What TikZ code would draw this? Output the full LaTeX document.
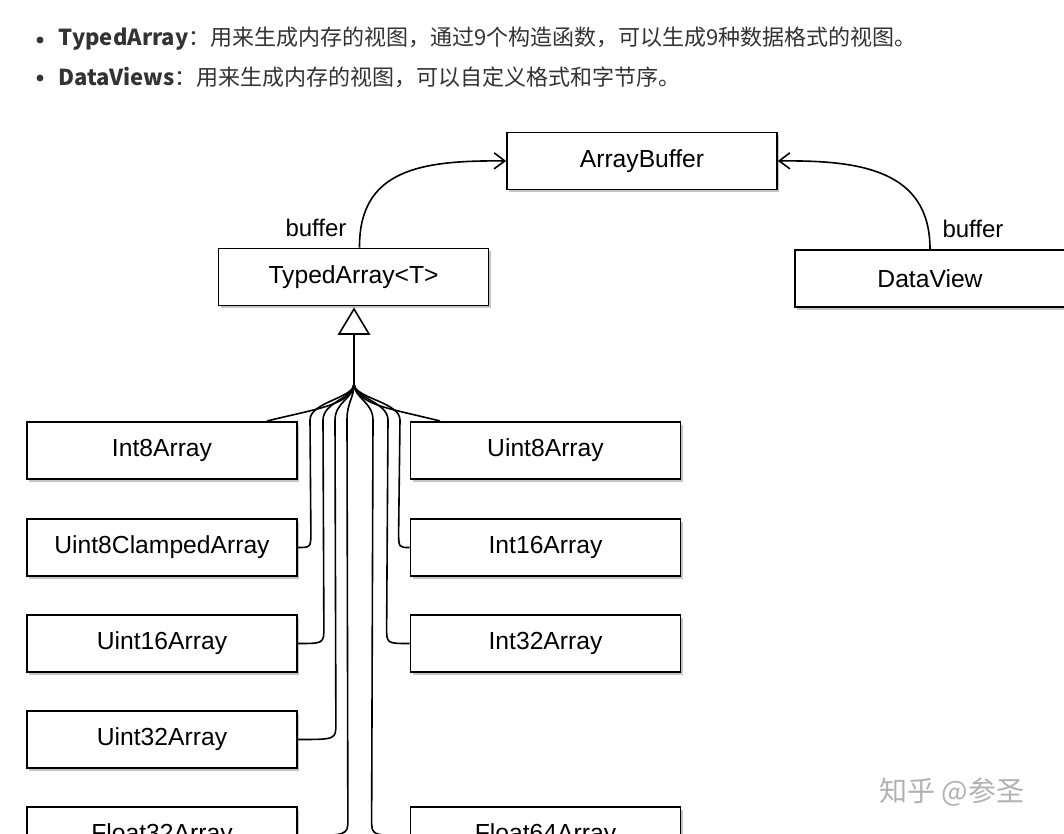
\documentclass[tikz,border=0pt]{standalone}
\usepackage{fontspec}
\setmainfont{Liberation Sans}
\newfontfamily\cjk{Noto Sans CJK SC}
\usetikzlibrary{arrows.meta,calc}
\begin{document}
\begin{tikzpicture}[x=0.75pt,y=-0.75pt,
  box/.style={draw,line width=1.3pt,minimum width=202.5pt,minimum height=42.75pt,inner sep=0pt,font=\fontsize{18.5}{20}\selectfont,fill=white,
    preaction={fill=black!45,opacity=0.5,transform canvas={xshift=1.5pt,yshift=-2.2pt}}},
  ln/.style={line width=1.2pt},
  lbl/.style={font=\fontsize{18}{20}\selectfont},
  bul/.style={anchor=west,font=\fontsize{16.5}{18}\selectfont\cjk,text=black!80}]
\useasboundingbox (0,0) rectangle (1064,834);
\clip (0,0) rectangle (1064,834);
\fill[white] (0,0) rectangle (1064,834);
% bullets
\fill[black!80] (40,40) circle (2.6pt);
\fill[black!80] (40,78) circle (2.6pt);
\node[bul] (b1) at (54,39) {\textbf{TypedArray}：用来生成内存的视图，通过9个构造函数，可以生成9种数据格式的视图。};
\node[bul] (b2) at (54,77) {\textbf{DataViews}：用来生成内存的视图，可以自定义格式和字节序。};
% boxes
\node[box] (ab) at (642,161) {ArrayBuffer};
\node[box] (ta) at (353.5,277) {TypedArray<T>};
\node[box] (dv) at (930,278.5) {DataView};
\node[box] (i8) at (162,450.5) {Int8Array};
\node[box] (u8c) at (162,547.5) {Uint8ClampedArray};
\node[box] (u16) at (162,643.5) {Uint16Array};
\node[box] (u32) at (162,739.5) {Uint32Array};
\node[box] (f32) at (162,835.5) {Float32Array};
\node[box] (u8) at (545.5,450.5) {Uint8Array};
\node[box] (i16) at (545.5,547.5) {Int16Array};
\node[box] (i32) at (545.5,643.5) {Int32Array};
\node[box] (f64) at (545.5,835.5) {Float64Array};
% buffer arrows
\draw[ln,-{Straight Barb[length=8pt,width=12pt]}] (ta.north) ++(6,0) coordinate (tas) .. controls (359,170) and (420,160) .. (ab.west);
\draw[ln,-{Straight Barb[length=8pt,width=12pt]}] (dv.north) .. controls (930,170) and (860,160) .. (ab.east);
\node[lbl] (bl1) at (316,228) {buffer};
\node[lbl] (bl2) at (973,229) {buffer};
% inheritance
\coordinate (hub) at (354,384);
\draw[ln,fill=white] (354,309) -- (369,334) -- (339,334) -- cycle;
\draw[ln] (354,334) -- (hub);
\draw[ln] (hub) .. controls (350,405) and (320,408) .. (267,421);
\draw[ln] (hub) .. controls (358,405) and (388,408) .. (440,421);
\foreach \x/\n in {310/u8c,323/u16,335/u32,347/f32}{
  \draw[ln] (hub) .. controls (354,398) and (\x,402) .. (\x,420) -- ($(\n.east)+(\x-297,-16)$) .. controls ($(\n.east)+(\x-297,0)$) .. (\n.east);
}
\foreach \x/\n in {400/i16,388/i32,373/f64}{
  \draw[ln] (hub) .. controls (354,398) and (\x,402) .. (\x,420) -- ($(\n.west)+(\x-411,-16)$) .. controls ($(\n.west)+(\x-411,0)$) .. (\n.west);
}
\node[font=\fontsize{21}{24}\selectfont\cjk,text=black!30] (wm) at (952,792) {知乎 @参圣};
\end{tikzpicture}
\end{document}
